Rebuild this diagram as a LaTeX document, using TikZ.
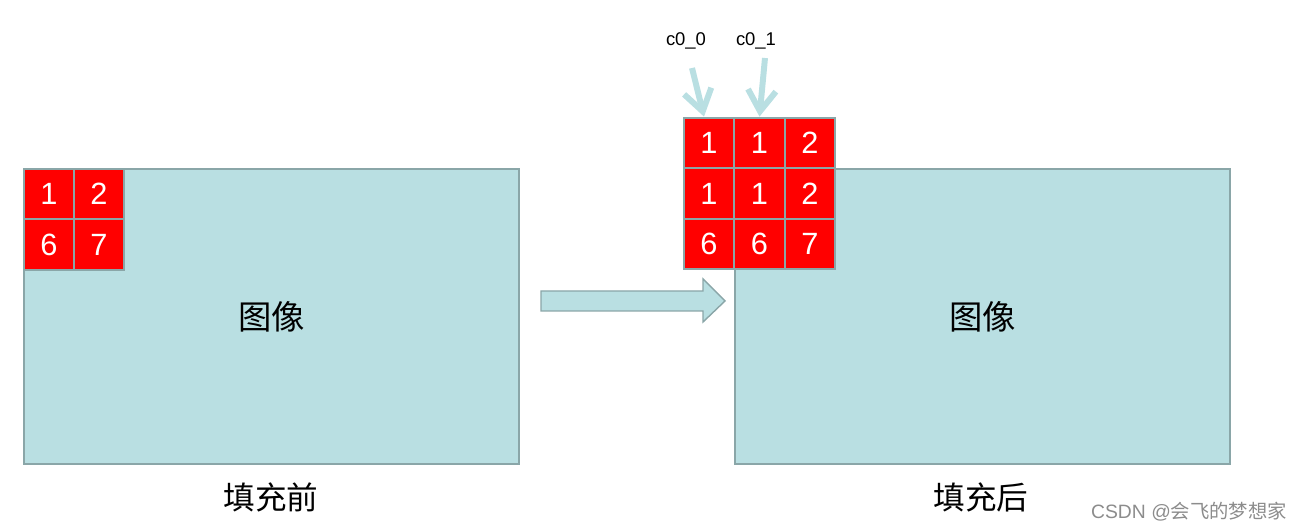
\documentclass[tikz,border=0pt]{standalone}
\usepackage{fontspec}
\setmainfont{Liberation Sans}
\newfontfamily\cjk{Noto Sans CJK SC}
\usepackage{tikz}
\usetikzlibrary{arrows.meta}
\definecolor{pale teal}{HTML}{B9DFE2}
\definecolor{teal edge}{HTML}{8AA6A8}
\definecolor{cell red}{HTML}{FF0000}

\begin{document}
\begin{tikzpicture}[x=0.02cm, y=-0.02cm,
		img/.style={draw=teal edge, fill=pale teal, line width=1.1pt, minimum width=9.9cm, minimum height=5.9cm, inner sep=0pt, font=\cjk\fontsize{19}{19}\selectfont},
		cell/.style={draw=teal edge, fill=cell red, line width=1.3pt, minimum size=1.01cm, inner sep=0pt, text=white, font=\fontsize{17.5}{17.5}\selectfont},
		caption/.style={font=\cjk\fontsize{18}{18}\selectfont},
		tag/.style={font=\fontsize{10.5}{10.5}\selectfont},
		pointer/.style={draw=pale teal, line width=3.4pt, -{Straight Barb[length=0.42cm, width=0.56cm]}},
		wm/.style={text=black!45, font=\fontsize{11}{11}\selectfont}]
		\useasboundingbox (0,0) rectangle (1299,530);
		% image before padding
		\node[img] (before) at (271.5,316.5) {图像};
		\foreach \r/\c/\v in {0/0/1, 0/1/2, 1/0/6, 1/1/7}
			\node[cell] (a\r\c) at (49+50*\c,194+50.5*\r) {\v};
		\node[caption] (capL) at (271,497) {填充前};
		% arrow in between
		\draw[teal edge, fill=pale teal, line width=0.8pt]
			(541,291) -- (703,291) -- (703,279) -- (725,301)
			-- (703,322) -- (703,311) -- (541,311) -- cycle;
		% image after padding
		\node[img] (after) at (982.5,316.5) {图像};
		\foreach \r/\c/\v in {0/0/1, 0/1/1, 0/2/2, 1/0/1, 1/1/1, 1/2/2, 2/0/6, 2/1/6, 2/2/7}
			\node[cell] (b\r\c) at (709+50.5*\c,143+50.5*\r) {\v};
		\node[caption] (capR) at (981,497) {填充后};
		% column pointers
		\node[tag] (t00) at (686,41) {c0\_0};
		\node[tag] (t01) at (756,41) {c0\_1};
		\coordinate (s00) at (692,68);
		\coordinate (s01) at (765,58);
		\draw[pointer] (s00) -- ([shift={(-5,0)}]b00.north);
		\draw[pointer] (s01) -- (b01.north);
		\node[wm] (credit) at (1189,512) {CSDN @{\cjk 会飞的梦想家}};
	\end{tikzpicture}
\end{document}
